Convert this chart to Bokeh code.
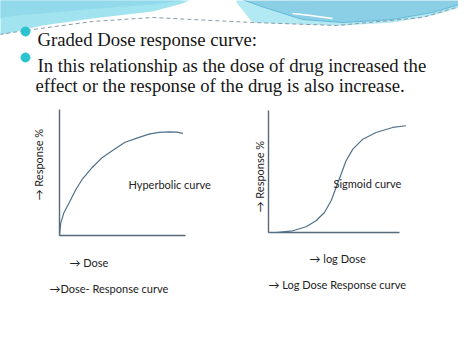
import math
from bokeh.plotting import figure
from bokeh.models import Range1d
from bokeh.core.properties import value
from bokeh.embed import file_html
from bokeh.resources import INLINE

# ---------------- data ----------------
bullet_lines = ["Graded Dose response curve:",
                "In this relationship as the dose of drug increased the"]
cont_line = "effect or the response of  the drug is also increase."

# Hyperbolic (dose-response) curve: dose (0-10) vs response %
dose = [0, 0.1, 0.35, 0.77, 1.3, 1.83, 2.6, 3.4, 4.3, 5.2, 6.2, 7.1, 7.9, 8.7, 9.3, 9.8]
resp_hyper = [0, 10, 18, 26, 36.5, 45, 54, 62, 68, 74, 77.5, 80.4, 81.8, 82.3, 82, 81]

# Sigmoid (log dose-response) curve: log dose (0-10) vs response %
log_dose = [0, 0.58, 1.85, 2.87, 3.63, 4.27, 4.78, 5.16, 5.54, 5.92, 6.44, 7.2, 8.21, 9.48, 10.5]
resp_sigmoid = [0, 0, 1.4, 4.7, 9.6, 16.4, 26, 36.9, 47.8, 58.8, 68.3, 76.5, 82, 86.1, 87.5]

y_label = "→ Response %"
x_label_1 = "→ Dose"
x_label_2 = "→ log Dose"
curve_name_1 = "Hyperbolic curve"
curve_name_2 = "Sigmoid curve"
caption_1 = "→Dose- Response curve"
caption_2 = "→ Log Dose Response curve"

# ---------------- figure ----------------
W, H = 458, 339
X0, Y0 = 8, 8
p = figure(width=W, height=H, output_backend="svg", toolbar_location=None,
           x_range=Range1d(X0, X0 + W), y_range=Range1d(Y0 + H, Y0),
           x_axis_location=None, y_axis_location=None, min_border=0)
p.grid.visible = False
p.outline_line_color = None
p.background_fill_color = "white"
p.border_fill_color = "white"

# --- charts ---
def add_chart(tag, ox, oy, xlen, ylen):
    s = xlen / 10.0
    t = ylen / 100.0
    p.extra_x_ranges[tag + "x"] = Range1d(-(ox - X0) / s, (X0 + W - ox) / s)
    p.extra_y_ranges[tag + "y"] = Range1d(-(Y0 + H - oy) / t, (oy - Y0) / t)
    p.segment(x0=[0, 0], y0=[0, 0], x1=[10, 0], y1=[0, 100],
              x_range_name=tag + "x", y_range_name=tag + "y",
              line_color="#56697a", line_width=1.4)

add_chart("c1", 67, 243, 126, 126)
add_chart("c2", 276, 240, 131, 122)
p.line(dose, resp_hyper, x_range_name="c1x", y_range_name="c1y",
       line_color="#4f718c", line_width=1.2)
p.line(log_dose, resp_sigmoid, x_range_name="c2x", y_range_name="c2y",
       line_color="#4f718c", line_width=1.2)

# --- header decoration (slide theme) ---
a_x = [0, 24, 50, 100, 160, 190, 214]
a_lo = [44, 39, 33, 26, 19, 11, 0]
a_top = [0, 0, 0, 0, 0, 0, 0]
p.varea(x=a_x, y1=a_top, y2=a_lo, fill_color="#a2e3f0", fill_alpha=1.0)
a2_lo = [27, 23, 21, 16.5, 12, 8, 0]
p.varea(x=a_x, y1=a_top, y2=a2_lo, fill_color="#92daeb", fill_alpha=1.0)
c_x = [244, 260, 272, 310, 344, 350, 400, 430, 440, 474]
c_up = [5, 10, 15, 27, 29.5, 30, 27, 22, 20, 10]
c_dn = [10, 30, 30.5, 32, 33, 33, 30, 25, 23, 13]
p.varea(x=c_x, y1=c_up, y2=c_dn, fill_color="#b2e9f3", fill_alpha=1.0)
dk_x = [226, 474, 474, 440, 400, 350, 310, 272, 244]
dk_y = [0, 0, 10, 20, 27, 30, 27, 15, 5]
p.patch(dk_x, dk_y, fill_color="#8acfe6", fill_alpha=1.0, line_color="#62b9d8", line_width=1)
dk2_x = [240, 474, 474, 300, 262]
dk2_y = [0, 0, 4, 8, 4]
p.patch(dk2_x, dk2_y, fill_color="#9ad7ea", fill_alpha=1.0, line_color=None)
st_x = [300, 318, 340]
st_y = [21, 23, 26]
p.line(st_x, st_y, line_color="white", line_width=1.5)
ln_x = [0, 33, 100, 160, 260, 344, 430, 474]
ln_y = [43, 38, 29, 25, 30, 33, 25, 12]
p.line(ln_x, ln_y, line_color="#8a9aa3", line_dash="4 3", line_width=1)

# --- bullets and header text ---
p.scatter([33, 33], [39, 65], size=9, color="#2cc3cf")
serif = value("Liberation Serif")
p.text(x=[45, 45], y=[47, 72.5], text=bullet_lines, text_font=serif,
       text_font_size="18.7px", text_color="#161616", text_baseline="alphabetic")
p.text(x=[43], y=[93], text=[cont_line], text_font=serif,
       text_font_size="18.7px", text_color="#161616", text_baseline="alphabetic")

sans = value("Lato")
fs = "11px"
tc = "#222222"
p.text(x=[136, 341, 77, 317, 57, 276], y=[191.5, 191, 270, 266, 296, 291.5],
       text=[curve_name_1, curve_name_2, x_label_1, x_label_2, caption_1, caption_2],
       text_font=sans, text_font_size=fs, text_color=tc, text_baseline="alphabetic")
p.text(x=[46, 267], y=[208, 220], text=[y_label, y_label], angle=math.pi / 2,
       text_font=sans, text_font_size=fs, text_color=tc, text_baseline="alphabetic")

open("out.html", "w").write(file_html(p, INLINE))
